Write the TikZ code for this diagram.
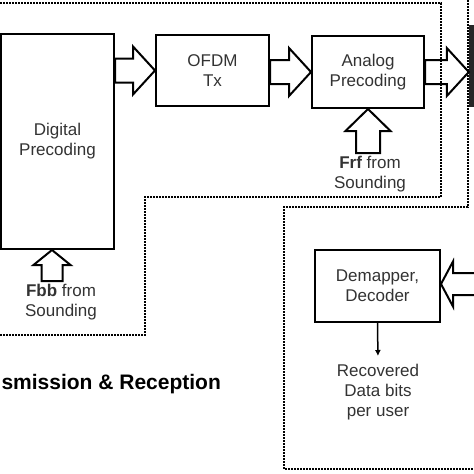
\documentclass[tikz,border=0pt]{standalone}
\usepackage{fontspec}
\setmainfont{Liberation Sans}
\usetikzlibrary{calc,arrows.meta}

\tikzset{
  block/.style={draw, line width=2pt, fill=white, align=center, text=black!80,
    font=\fontsize{17}{20}\selectfont},
  note/.style={align=center, text=black!80, font=\fontsize{17}{20}\selectfont},
  blockarrow/.style={draw, line width=2pt, line join=miter},
  zone/.style={line width=2pt, densely dotted},
}

% block arrow: tail, tip, shaft half width, head half width, head length
\newcommand{\blockarrow}[5]{%
  \draw[blockarrow] let \p1=(#1), \p2=(#2),
      \n1={veclen(\x2-\x1,\y2-\y1)}, \n2={atan2(\y2-\y1,\x2-\x1)} in
    ([shift={(\p1)},rotate=\n2]0pt,#3pt)
    -- ([shift={(\p1)},rotate=\n2]\n1-#5pt,#3pt)
    -- ([shift={(\p1)},rotate=\n2]\n1-#5pt,#4pt)
    -- ([shift={(\p1)},rotate=\n2]\n1,0pt)
    -- ([shift={(\p1)},rotate=\n2]\n1-#5pt,-#4pt)
    -- ([shift={(\p1)},rotate=\n2]\n1-#5pt,-#3pt)
    -- ([shift={(\p1)},rotate=\n2]0pt,-#3pt) -- cycle;}

\begin{document}
\begin{tikzpicture}[x=1pt, y=-1pt]
  \clip (0,0) rectangle (474,474);
  \fill[white] (0,0) rectangle (474,474);

  % dotted zones
  \draw[zone] (-3,3) -- (441,3) -- (441,197) -- (145,197) -- (145,335) -- (-3,335);
  \draw[zone] (468,-3) -- (468,207) -- (284,207) -- (284,469) -- (477,469);

  % blocks
  \node[block, minimum width=113, minimum height=215] (dp) at (57.5,141.5) {Digital\\Precoding};
  \node[block, minimum width=113, minimum height=71] (ofdm) at (212.5,70.5) {OFDM\\Tx};
  \node[block, minimum width=112, minimum height=72] (ap) at (368,72) {Analog\\Precoding};
  \node[fill=black!85, inner sep=0pt, minimum width=10, minimum height=82] (rx) at (474,66) {};
  \node[block, minimum width=125, minimum height=72] (dem) at (377.5,286) {Demapper,\\Decoder};

  % labels
  \node[note, anchor=north] (frf) at (370,153) {\textbf{Frf} from\\Sounding};
  \node[note, anchor=north] (fbb) at (61,281) {\textbf{Fbb} from\\Sounding};
  \node[note, anchor=north] (rec) at (378,361) {Recovered\\Data bits\\per user};
  \node[anchor=base west, font=\bfseries\fontsize{21}{24}\selectfont] (title) at (-2,389)
    {smission \& Reception};

  \coordinate (fbbtail) at (52,281);
  \coordinate (rxtail) at (480,284);

  % connectors
  \blockarrow{dp.east |- ofdm.west}{ofdm.west}{12}{24}{22}
  \blockarrow{ofdm.east |- ap.west}{ap.west}{12}{24}{22}
  \blockarrow{ap.east}{ap.east -| rx.west}{12}{24}{22}
  \blockarrow{ap.south |- frf.north}{ap.south}{12}{22.5}{22}
  \blockarrow{fbbtail}{fbbtail |- dp.south}{10.5}{18.5}{15}
  \blockarrow{rxtail}{rxtail -| dem.east}{11}{22.5}{12}
  \draw[line width=1.5pt, -{Latex[length=6pt,width=6pt]}, shorten >=5pt] (dem.south) -- (rec.north);
\end{tikzpicture}
\end{document}
